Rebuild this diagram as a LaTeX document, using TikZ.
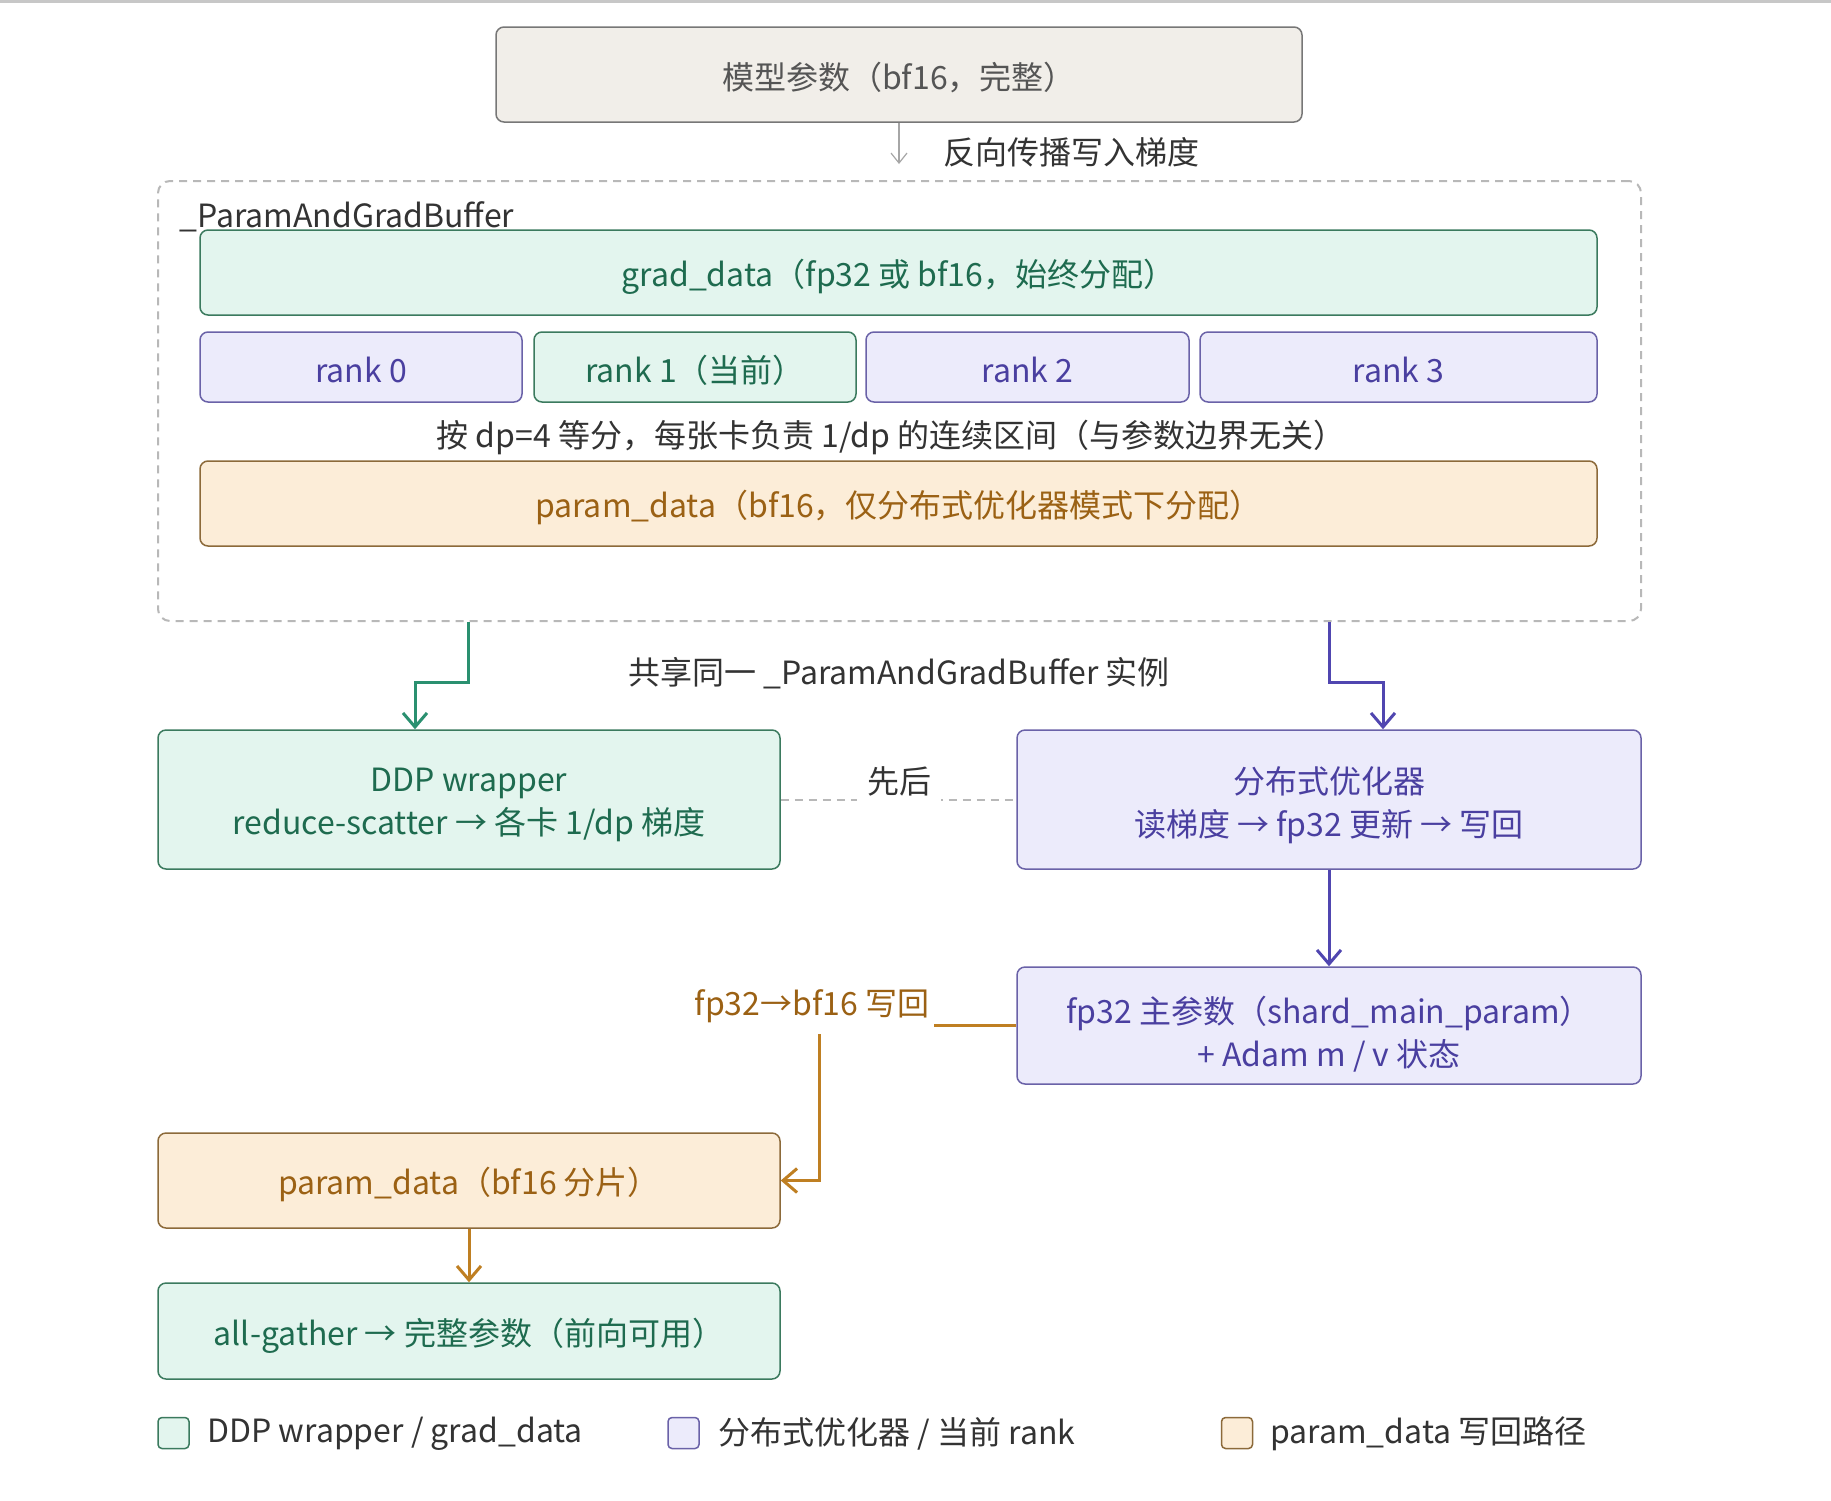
\documentclass[tikz,border=0pt]{standalone}
\usepackage{fontspec}
\setmainfont{Noto Sans CJK SC}
\usetikzlibrary{arrows.meta,calc}
\definecolor{gfill}{HTML}{E3F5EE}
\definecolor{gdraw}{HTML}{3B7A5E}
\definecolor{gtext}{HTML}{1E6B4F}
\definecolor{garr}{HTML}{2A9070}
\definecolor{pfill}{HTML}{ECEBFB}
\definecolor{pdraw}{HTML}{6A62A8}
\definecolor{ptext}{HTML}{4A3FA0}
\definecolor{parr}{HTML}{5046B0}
\definecolor{ofill}{HTML}{FCEDD8}
\definecolor{odraw}{HTML}{8C6A3A}
\definecolor{otext}{HTML}{9B6114}
\definecolor{oarr}{HTML}{BF7F22}
\definecolor{tfill}{HTML}{F1EEE9}
\definecolor{tdraw}{HTML}{777777}
\definecolor{ttext}{HTML}{555555}
\definecolor{ltext}{HTML}{333333}
\tikzset{
  base/.style={rounded corners=4pt, line width=0.75pt, align=center, inner sep=0pt,
    font=\fontsize{16pt}{21.5pt}\selectfont,
    execute at begin node={\rule[-3pt]{0pt}{21pt}}},
  gbox/.style={base, fill=gfill, draw=gdraw, text=gtext},
  pbox/.style={base, fill=pfill, draw=pdraw, text=ptext},
  obox/.style={base, fill=ofill, draw=odraw, text=otext},
  tbox/.style={base, fill=tfill, draw=tdraw, text=ttext, execute at begin node={}},
  lbl/.style={font=\fontsize{16pt}{21.5pt}\selectfont, text=ltext, inner sep=0pt},
  barb/.style={-{Straight Barb[length=7pt,width=12pt,line width=1.5pt]}, line width=1.5pt},
  garrow/.style={barb, draw=garr},
  parrow/.style={barb, draw=parr},
  oarrow/.style={barb, draw=oarr},
  legsq/.style={rounded corners=2pt, line width=0.75pt, minimum size=15.5pt, inner sep=0pt},
}
\begin{document}
\begin{tikzpicture}[x=0.5pt,y=-0.5pt]
\useasboundingbox[fill=white] (0,0) rectangle (1831,1500);
\draw[line width=1.5pt, draw=black!22] (0,1.5) -- (1831,1.5);

% top box
\node[tbox, minimum width=403pt, minimum height=47.5pt] (model) at (899,74.5) {模型参数（bf16，完整）};

% container
\node[draw=black!28, dashed, dash pattern=on 4pt off 3pt, line width=1pt, rounded corners=6pt,
      minimum width=741.5pt, minimum height=220pt, inner sep=0pt] (buf) at (899.5,401) {};
\node[lbl, anchor=west] (buflbl) at (179,217) {\_ParamAndGradBuffer};

\draw[draw=black!35, line width=0.6pt, -{Straight Barb[length=5pt,width=8pt,line width=0.6pt]}, shorten >=8pt] (model.south -| 899,0) -- (buf.north -| 899,0);
\node[lbl, anchor=west] (bwlbl) at (943,152) {反向传播写入梯度};

\node[gbox, minimum width=698.5pt, minimum height=42.5pt] (grad) at (898.5,272.5) {grad\_data（fp32 或 bf16，始终分配）};
\node[pbox, minimum width=161pt, minimum height=35pt] (r0) at (361,367) {rank 0};
\node[gbox, minimum width=161pt, minimum height=35pt] (r1) at (695,367) {rank 1（当前）};
\node[pbox, minimum width=161.5pt, minimum height=35pt] (r2) at (1027.5,367) {rank 2};
\node[pbox, minimum width=198.5pt, minimum height=35pt] (r3) at (1398.5,367) {rank 3};
\node[lbl] (split) at (891,437) {按 dp=4 等分，每张卡负责 1/dp 的连续区间（与参数边界无关）};
\node[obox, minimum width=698.5pt, minimum height=42.5pt] (pdata) at (898.5,503.5) {param\_data（bf16，仅分布式优化器模式下分配）};

% middle row
\node[gbox, minimum width=311pt, minimum height=69.5pt] (ddp) at (469,799.5) {\rule{0pt}{17pt}DDP wrapper\\reduce-scatter → 各卡 1/dp 梯度};
\node[pbox, minimum width=312pt, minimum height=69.5pt] (opt) at (1329,799.5) {\rule{0pt}{19pt}分布式优化器\\读梯度 → fp32 更新 → 写回};

\coordinate (gtop) at (468,0);
\coordinate (gbot) at (415,0);
\coordinate (ptop) at (1329,0);
\coordinate (pbot) at (1383,0);
\draw[garrow] (buf.south -| gtop) -- ++(0,60) -| (ddp.north -| gbot);
\draw[parrow] (buf.south -| ptop) -- ++(0,60) -| (opt.north -| pbot);
\node[lbl] (share) at (899,673) {共享同一 \_ParamAndGradBuffer 实例};

\draw[draw=black!28, dashed, dash pattern=on 4pt off 3pt, line width=1pt] (ddp.east) -- (opt.west);
\node[lbl, fill=white, minimum width=42pt, minimum height=25pt] (seq) at (899,781) {先后};

% fp32 master
\node[pbox, minimum width=312pt, minimum height=58.5pt] (fp32) at (1329,1025.5) {\rule{0pt}{22pt}fp32 主参数（shard\_main\_param）\\+ Adam m / v 状态};
\draw[parrow] (opt.south) -- (fp32.north);

\node[obox, minimum width=311pt, minimum height=47.5pt] (shard) at (469,1180.5) {param\_data（bf16 分片）};
\node[gbox, minimum width=311pt, minimum height=48pt] (ag) at (469,1331) {all-gather → 完整参数（前向可用）};

\coordinate (ob) at (819,1180.5);
\draw[oarrow] (fp32.west) -| (ob) -- (shard.east);
\node[font=\fontsize{16pt}{21.5pt}\selectfont, text=otext, fill=white, inner sep=0pt,
      minimum width=122pt, minimum height=28pt] (wb) at (812,1006) {fp32→bf16 写回};
\draw[oarrow] (shard.south) -- (ag.north);

% legend
\node[legsq, fill=gfill, draw=gdraw] (lg1) at (173.5,1433) {};
\node[lbl, anchor=west] (lt1) at (207,1434) {DDP wrapper / grad\_data};
\node[legsq, fill=pfill, draw=pdraw] (lg2) at (683.5,1433) {};
\node[lbl, anchor=west] (lt2) at (718,1434) {分布式优化器 / 当前 rank};
\node[legsq, fill=ofill, draw=odraw] (lg3) at (1237,1433) {};
\node[lbl, anchor=west] (lt3) at (1270,1434) {param\_data 写回路径};
\end{tikzpicture}
\end{document}
